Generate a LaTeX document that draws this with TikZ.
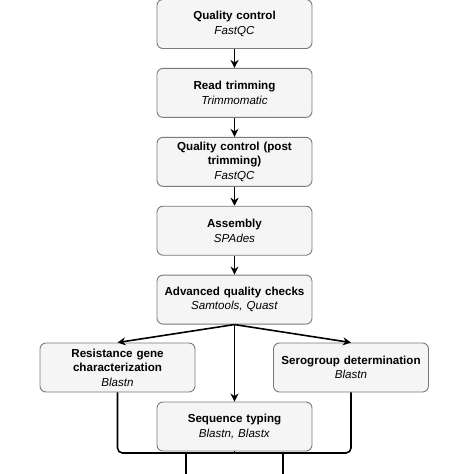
\documentclass[tikz,border=0pt]{standalone}
\usepackage{fontspec}
\setmainfont{Liberation Sans}
\usepackage{xcolor}
\usetikzlibrary{arrows.meta, positioning}

\definecolor{boxfill}{HTML}{F5F5F5}
\definecolor{boxdraw}{HTML}{7A7A7A}

\begin{document}
\begin{tikzpicture}[x=1pt, y=1pt, node distance=19pt,
        block/.style={rectangle, draw=boxdraw, line width=0.9pt, fill=boxfill, text width=145pt, inner xsep=5pt, text centered, rounded corners=6pt, minimum height=49pt, font=\fontsize{11.6}{14.5}\selectfont},
        line/.style={draw, -{Stealth[length=8pt, width=8pt, inset=2.5pt]}, line width=1.6pt},
        bus/.style={draw, line width=1.6pt, rounded corners=5pt}]

        \clip (0,0) rectangle (474,-474);

        % Nodes
        \node [block] (qc) at (234.5,-24) {\textbf{Quality control}\\\textit{FastQC}};
        \node [block, below=of qc] (trim) {\textbf{Read trimming}\\\textit{Trimmomatic}};
        \node [block, below=of trim] (qcpost) {\textbf{Quality control (post}\\\textbf{trimming)}\\\textit{FastQC}};
        \node [block, below=of qcpost] (assembly) {\textbf{Assembly}\\\textit{SPAdes}};
        \node [block, below=of assembly] (advqc) {\textbf{Advanced quality checks}\\\textit{Samtools, Quast}};
        \node [block, below=18pt of advqc, xshift=-117pt] (resist) {\textbf{Resistance gene}\\\textbf{characterization}\\\textit{Blastn}};
        \node [block, below=18pt of advqc, xshift=116.5pt] (serogroup) {\textbf{Serogroup determination}\\\textit{Blastn}};
        \node [block, below=77pt of advqc] (seqtype) {\textbf{Sequence typing}\\\textit{Blastn, Blastx}};

        \coordinate (busline) at (0,-453);
        \coordinate (outA) at (186,-480);
        \coordinate (outB) at (283,-480);

        % Edges
        \path [line] (qc) -- (trim);
        \path [line] (trim) -- (qcpost);
        \path [line] (qcpost) -- (assembly);
        \path [line] (assembly) -- (advqc);
        \path [line] (advqc.south) -- (resist.north);
        \path [line] (advqc.south) -- (serogroup.north);
        \path [line] (advqc.south) -- (seqtype.north);

        % Merging lines
        \path [bus] (resist.south) -- (resist.south |- busline) -- (serogroup.south |- busline) -- (serogroup.south);
        \path [bus] (seqtype.south) -- (seqtype.south |- busline);
        \path [bus] (outA |- busline) -- (outA);
        \path [bus] (outB |- busline) -- (outB);

    \end{tikzpicture}
\end{document}
